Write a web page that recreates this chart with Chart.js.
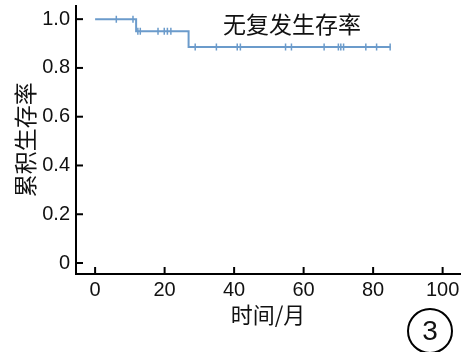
<!DOCTYPE html>
<html>
<head>
<meta charset="utf-8">
<script src="https://cdn.jsdelivr.net/npm/chart.js@4/dist/chart.umd.min.js"></script>
<style>
    body { margin: 0; background: #fff; }
    #wrap { width: 474px; height: 352px; position: relative; }
</style>
</head>
<body>
<div id="wrap"><canvas id="kmChart"></canvas></div>
<script>
// Kaplan-Meier curve (months, cumulative survival)
const stepTimes = [0, 11.8, 26.9, 85];
const stepSurv = [1.0, 0.95, 0.886, 0.886];

// censored observations
const censorTimes = [6.1, 10.9, 12.3, 13.0, 18.1, 19.9, 20.8, 21.8, 28.8, 34.9, 40.9, 41.8,
    54.8, 56.5, 65.9, 70.0, 70.7, 71.5, 77.9, 81.0, 84.9];
const censorSurv = [1.0, 1.0, 0.95, 0.95, 0.95, 0.95, 0.95, 0.95, 0.886, 0.886, 0.886, 0.886,
    0.886, 0.886, 0.886, 0.886, 0.886, 0.886, 0.886, 0.886, 0.886];

const xTickValues = [0, 20, 40, 60, 80, 100];
const yTickValues = [0, 0.2, 0.4, 0.6, 0.8, 1.0];
const yTickLabels = ['0', '0.2', '0.4', '0.6', '0.8', '1.0'];

const seriesLabel = '无复发生存率';
const xTitle = '时间/月';
const yTitle = '累积生存率';
const panelLabel = '3';

const lineColor = '#6b9bcb';
const latin = '"Liberation Sans", Arial, sans-serif';
const cjk = '"Noto Sans CJK SC", "Liberation Sans", sans-serif';

// ticks pointing into the plot area + series label + panel number
const extras = {
    id: 'extras',
    afterDraw(chart) {
        const ctx = chart.ctx;
        const area = chart.chartArea;
        const xs = chart.scales.x, ys = chart.scales.y;
        ctx.save();
        ctx.strokeStyle = '#000';
        ctx.lineWidth = 2;
        xTickValues.forEach(v => {
            const px = xs.getPixelForValue(v);
            ctx.beginPath();
            ctx.moveTo(px, area.bottom);
            ctx.lineTo(px, area.bottom - 7);
            ctx.stroke();
        });
        yTickValues.forEach(v => {
            const py = ys.getPixelForValue(v);
            ctx.beginPath();
            ctx.moveTo(area.left, py);
            ctx.lineTo(area.left + 7, py);
            ctx.stroke();
        });

        ctx.fillStyle = '#111';
        ctx.font = '23px ' + cjk;
        ctx.textAlign = 'left';
        ctx.textBaseline = 'middle';
        ctx.fillText(seriesLabel, 223, 24);

        ctx.beginPath();
        ctx.arc(430, 331, 22, 0, Math.PI * 2);
        ctx.stroke();
        ctx.font = '28px ' + latin;
        ctx.textAlign = 'center';
        ctx.fillText(panelLabel, 430, 332);
        ctx.restore();
    }
};

new Chart(document.getElementById('kmChart'), {
    type: 'line',
    data: {
        datasets: [{
            label: seriesLabel,
            data: stepTimes.map((t, i) => ({ x: t, y: stepSurv[i] })),
            borderColor: lineColor,
            borderWidth: 2,
            stepped: 'before',
            pointRadius: 0,
            fill: false
        }, {
            label: 'censored',
            type: 'scatter',
            data: censorTimes.map((t, i) => ({ x: t, y: censorSurv[i] })),
            pointStyle: 'line',
            rotation: 90,
            pointRadius: 3.5,
            borderColor: lineColor,
            borderWidth: 1.5
        }]
    },
    options: {
        responsive: true,
        maintainAspectRatio: false,
        animation: false,
        layout: { padding: { top: 0, right: 14, left: 0, bottom: 0 } },
        plugins: {
            legend: { display: false },
            tooltip: { enabled: false }
        },
        scales: {
            x: {
                type: 'linear',
                min: -5.5,
                max: 105,
                afterBuildTicks: s => { s.ticks = xTickValues.map(v => ({ value: v })); },
                afterFit: s => { s.height = 78; s.paddingLeft = 0; s.paddingRight = 0; },
                grid: { display: false, drawTicks: false },
                border: { display: true, color: '#000', width: 2 },
                ticks: {
                    color: '#111',
                    padding: 4,
                    maxRotation: 0,
                    font: { family: latin, size: 20 }
                },
                title: {
                    display: true,
                    text: xTitle,
                    color: '#111',
                    font: { family: cjk, size: 22 },
                    padding: { top: 0, bottom: 24 }
                }
            },
            y: {
                type: 'linear',
                min: -0.045,
                max: 1.056,
                afterBuildTicks: s => { s.ticks = yTickValues.map(v => ({ value: v })); },
                afterFit: s => { s.width = 76; s.paddingTop = 0; s.paddingBottom = 0; },
                grid: { display: false, drawTicks: false },
                border: { display: true, color: '#000', width: 2 },
                ticks: {
                    color: '#111',
                    padding: 6,
                    font: { family: latin, size: 20 },
                    callback: (v) => {
                        const i = yTickValues.findIndex(t => Math.abs(t - v) < 1e-9);
                        return i >= 0 ? yTickLabels[i] : '';
                    }
                },
                title: {
                    display: true,
                    text: yTitle,
                    color: '#111',
                    font: { family: cjk, size: 23 },
                    padding: { top: 11, bottom: 0 }
                }
            }
        }
    },
    plugins: [extras]
});
</script>
</body>
</html>
